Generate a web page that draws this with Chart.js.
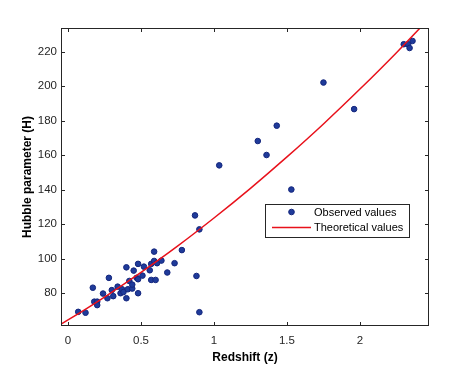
<!DOCTYPE html>
<html><head><meta charset="utf-8">
<script src="https://cdn.jsdelivr.net/npm/chart.js@4.4.1/dist/chart.umd.min.js"></script>
<style>html,body{margin:0;padding:0;background:#fff}#w{width:474px;height:368px}</style>
</head><body><div id="w"><canvas id="c" width="474" height="368"></canvas></div>
<script>
const obsZ = [0.07,0.12,0.17,0.18,0.20,0.20,0.24,0.28,0.27,0.30,0.31,0.34,0.36,0.37,0.38,0.40,0.40,0.41,0.42,0.44,0.44,0.45,0.47,0.48,0.48,0.48,0.51,0.52,0.56,0.57,0.57,0.59,0.59,0.60,0.61,0.64,0.68,0.73,0.78,0.87,0.90,0.88,0.90,1.036,1.30,1.36,1.43,1.53,1.75,1.96,2.30,2.33,2.34,2.36];
const obsH = [69.2,68.7,83.2,75.1,75.1,73.1,79.8,88.9,77.1,81.8,78.3,83.8,80.0,82.3,80.7,95.0,77.1,82.3,87.1,82.7,85.0,93.1,88.9,97.0,88.1,80.0,90.2,95.4,93.3,97.0,87.7,98.7,104.1,87.7,97.4,98.9,92.0,97.4,105.0,125.1,117.0,90.0,69.0,154.1,168.2,160.1,177.1,140.1,202.1,186.7,224.3,224.3,222.1,226.2];
const theoZ = [-0.05,0,0.25,0.5,0.75,1.0,1.25,1.5,1.75,2.0,2.25,2.5];
const theoH = [62.0,64.5,77.8,92.1,107.3,123.6,140.8,159.0,178.1,198.3,219.4,241.6];
const xTicks = [0,0.5,1,1.5,2];
const yTicks = [80,100,120,140,160,180,200,220];
const xTitle = 'Redshift (z)';
const yTitle = 'Hubble parameter (H)';
const legendLabels = ['Observed values','Theoretical values'];

const FONT = '"Liberation Sans", Arial, Helvetica, sans-serif';
const MARK = '#1f3b9a', MARKE = '#14267d', LINE = '#e8111b', AX = '#262626';

const framePlugin = {
  id: 'frame',
  afterDraw(chart) {
    const {ctx, chartArea: a, scales} = chart;
    ctx.save();
    ctx.strokeStyle = AX; ctx.lineWidth = 1;
    ctx.strokeRect(Math.round(a.left)+0.5, Math.round(a.top)+0.5, Math.round(a.right-a.left)-1, Math.round(a.bottom-a.top)-1);
    const tl = 4;
    ctx.beginPath();
    xTicks.forEach(v => {
      const x = Math.round(scales.x.getPixelForValue(v))+0.5;
      ctx.moveTo(x, a.bottom); ctx.lineTo(x, a.bottom-tl);
      ctx.moveTo(x, a.top); ctx.lineTo(x, a.top+tl);
    });
    yTicks.forEach(v => {
      const y = Math.round(scales.y.getPixelForValue(v))+0.5;
      ctx.moveTo(a.left, y); ctx.lineTo(a.left+tl, y);
      ctx.moveTo(a.right, y); ctx.lineTo(a.right-tl, y);
    });
    ctx.stroke();
    // legend
    const bx = 265.5, by = 204.5, bw = 144, bh = 33;
    ctx.fillStyle = '#fff';
    ctx.fillRect(bx, by, bw, bh);
    ctx.strokeStyle = AX;
    ctx.strokeRect(bx, by, bw, bh);
    ctx.fillStyle = MARK; ctx.strokeStyle = MARKE;
    ctx.beginPath(); ctx.arc(291.5, 212, 2.8, 0, Math.PI*2); ctx.fill(); ctx.stroke();
    ctx.strokeStyle = LINE; ctx.lineWidth = 1.5;
    ctx.beginPath(); ctx.moveTo(272, 227.5); ctx.lineTo(311, 227.5); ctx.stroke();
    ctx.fillStyle = '#000';
    ctx.font = '11px ' + FONT;
    ctx.textBaseline = 'middle'; ctx.textAlign = 'left';
    ctx.fillText(legendLabels[0], 314, 212.5);
    ctx.fillText(legendLabels[1], 314, 227.5);
    ctx.restore();
  }
};

new Chart(document.getElementById('c'), {
  type: 'scatter',
  data: {
    datasets: [
      { label: legendLabels[0], data: obsZ.map((z,i)=>({x:z,y:obsH[i]})),
        backgroundColor: MARK, borderColor: MARKE, borderWidth: 1, pointRadius: 2.8, order: 2 },
      { label: legendLabels[1], data: theoZ.map((z,i)=>({x:z,y:theoH[i]})), type: 'line',
        showLine: true, borderColor: LINE, borderWidth: 1.5, pointRadius: 0, fill: false,
        cubicInterpolationMode: 'monotone', order: 1 }
    ]
  },
  options: {
    responsive: false, animation: false, devicePixelRatio: 1,
    layout: { padding: { left: 20, right: 45, top: 28, bottom: 0 } },
    plugins: { legend: { display: false }, tooltip: { enabled: false } },
    scales: {
      x: {
        type: 'linear', min: -0.048, max: 2.473,
        afterBuildTicks: s => { s.ticks = xTicks.map(v => ({value: v})); },
        afterFit: s => { s.height = 42; },
        grid: { display: false, drawTicks: false },
        border: { display: false },
        ticks: { color: AX, font: { family: FONT, size: 11.5 }, padding: 8, maxRotation: 0,
                 callback: v => String(v) },
        title: { display: true, text: xTitle, color: '#000', font: { family: FONT, size: 12, weight: 'bold' }, padding: { top: 0, bottom: 3 } }
      },
      y: {
        type: 'linear', min: 61, max: 233.7,
        afterBuildTicks: s => { s.ticks = yTicks.map(v => ({value: v})); },
        afterFit: s => { s.width = 41; },
        grid: { display: false, drawTicks: false },
        border: { display: false },
        ticks: { color: AX, font: { family: FONT, size: 11.5 }, padding: 4 },
        title: { display: true, text: yTitle, color: '#000', font: { family: FONT, size: 12, weight: 'bold' }, padding: { top: 0, bottom: 4 } }
      }
    }
  },
  plugins: [framePlugin]
});
</script>
</body></html>
